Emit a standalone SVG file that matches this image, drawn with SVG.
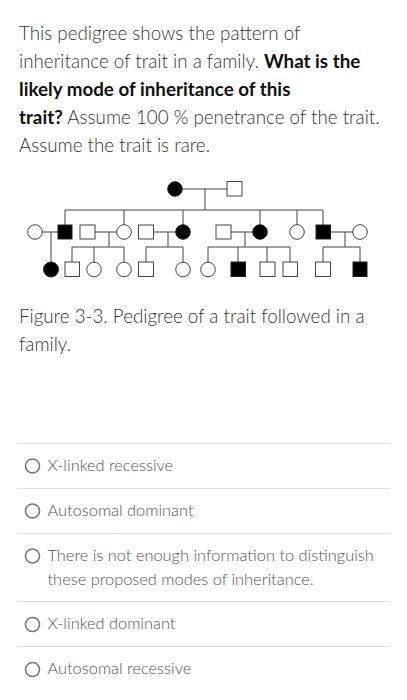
<svg xmlns="http://www.w3.org/2000/svg" width="407" height="700" viewBox="0 0 407 700">
<style>
.q{font-family:Lato,"Open Sans","Liberation Sans",sans-serif;font-size:18.8px;font-weight:300;fill:#333}
.b{font-weight:bold;fill:#111}
.opt{font-family:Lato,"Open Sans","Liberation Sans",sans-serif;font-size:16.4px;font-weight:300;fill:#555}
.div{stroke:#e3e3e3;stroke-width:1.2}
.radio{fill:none;stroke:#777;stroke-width:1.6}
.ln{stroke:#444;stroke-width:1;fill:none}
.o{fill:#fff;stroke:#444;stroke-width:1}
.f{fill:#000;stroke:#222;stroke-width:1}
</style>
<rect width="407" height="700" fill="#fff"/>
<g id="question">
<text class="q" x="19" y="40">This pedigree shows the pattern of</text>
<text class="q" x="19" y="68">inheritance of trait in a family. <tspan class="b">What is the</tspan></text>
<text class="q b" x="19" y="96">likely mode of inheritance of this</text>
<text class="q" x="19" y="124"><tspan class="b">trait?</tspan> Assume 100 % penetrance of the trait.</text>
<text class="q" x="19" y="152">Assume the trait is rare.</text>
</g>
<g id="connectors">
<path class="ln" d="M183,189H227M205,189V210M65,210H323"/>
<path class="ln" d="M65,210V225M124,210V225M183,210V225M260,210V225M297,210V225M323,210V225"/>
<path class="ln" d="M42,232H58M95,232H117M153,232H176M231,232H253M331,232H353"/>
<path class="ln" d="M51,232V262M109,232V247M72,247H124M72,247V262M94,247V262M124,247V262"/>
<path class="ln" d="M168,232V247M146,247H183M146,247V262M183,247V262"/>
<path class="ln" d="M245,232V247M208,247H290M208,247V262M238,247V262M267,247V262M290,247V262"/>
<path class="ln" d="M345,232V247M323,247H360M323,247V262M360,247V262"/>
</g>
<g id="gen1-female"><circle class="f" cx="175" cy="189" r="7.3"/></g>
<g id="gen1-male"><rect class="o" x="227" y="181.5" width="15" height="14.5"/></g>
<g id="gen2-wife1"><circle class="o" cx="35" cy="232" r="7.3"/></g>
<g id="gen2-son1"><rect class="f" x="58" y="225" width="14" height="14"/></g>
<g id="gen2-husband2"><rect class="o" x="80" y="225" width="15" height="14"/></g>
<g id="gen2-daughter2"><circle class="o" cx="124" cy="232" r="7.3"/></g>
<g id="gen2-husband3"><rect class="o" x="138.5" y="225" width="15" height="14"/></g>
<g id="gen2-daughter3"><circle class="f" cx="183" cy="232" r="7.3"/></g>
<g id="gen2-husband4"><rect class="o" x="216" y="225" width="15" height="14"/></g>
<g id="gen2-daughter4"><circle class="f" cx="260" cy="232" r="7.3"/></g>
<g id="gen2-daughter5"><circle class="o" cx="297" cy="232" r="7.3"/></g>
<g id="gen2-son6"><rect class="f" x="316" y="225" width="14.5" height="14"/></g>
<g id="gen2-wife6"><circle class="o" cx="360" cy="232" r="7.3"/></g>
<g id="gen3-a1"><circle class="f" cx="51" cy="269.5" r="7.5"/></g>
<g id="gen3-b1"><rect class="o" x="65" y="262" width="14.5" height="14.5"/></g>
<g id="gen3-b2"><circle class="o" cx="94" cy="269.5" r="7.3"/></g>
<g id="gen3-b3"><circle class="o" cx="124" cy="269.5" r="7.3"/></g>
<g id="gen3-c1"><rect class="o" x="138.5" y="262" width="15" height="14.5"/></g>
<g id="gen3-c2"><circle class="o" cx="183" cy="269.5" r="7.3"/></g>
<g id="gen3-d1"><circle class="o" cx="208" cy="269.5" r="7.3"/></g>
<g id="gen3-d2"><rect class="f" x="231" y="262" width="14.5" height="14.5"/></g>
<g id="gen3-d3"><rect class="o" x="260" y="262" width="15" height="14.5"/></g>
<g id="gen3-d4"><rect class="o" x="283" y="262" width="14.5" height="14.5"/></g>
<g id="gen3-e1"><rect class="o" x="315.5" y="262" width="15" height="14.5"/></g>
<g id="gen3-e2"><rect class="f" x="353" y="262" width="14" height="14.5"/></g>
<g id="caption">
<text class="q" x="19" y="323">Figure 3-3. Pedigree of a trait followed in a</text>
<text class="q" x="19" y="351">family.</text>
</g>
<g id="options">
<line class="div" x1="17" y1="443.5" x2="390" y2="443.5"/>
<line class="div" x1="17" y1="488.5" x2="390" y2="488.5"/>
<line class="div" x1="17" y1="533.5" x2="390" y2="533.5"/>
<line class="div" x1="17" y1="601.5" x2="390" y2="601.5"/>
<line class="div" x1="17" y1="646.5" x2="390" y2="646.5"/>
<circle class="radio" cx="32.5" cy="466" r="7"/>
<text class="opt" x="47.5" y="471">X-linked recessive</text>
<circle class="radio" cx="32.5" cy="511" r="7"/>
<text class="opt" x="47.5" y="516">Autosomal dominant</text>
<circle class="radio" cx="32.5" cy="556" r="7"/>
<text class="opt" x="47.5" y="561">There is not enough information to distinguish</text>
<text class="opt" x="47.5" y="585">these proposed modes of inheritance.</text>
<circle class="radio" cx="32.5" cy="624.5" r="7"/>
<text class="opt" x="47.5" y="629">X-linked dominant</text>
<circle class="radio" cx="32.5" cy="669.5" r="7"/>
<text class="opt" x="47.5" y="674">Autosomal recessive</text>
</g>
</svg>
